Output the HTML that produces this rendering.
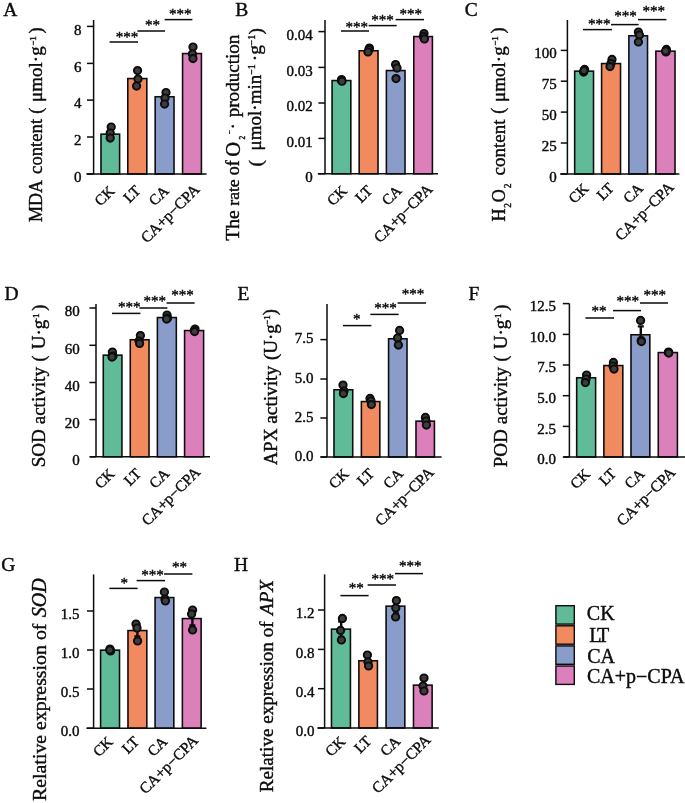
<!DOCTYPE html>
<html lang="en">
<head>
<meta charset="utf-8">
<title>Figure</title>
<style>
html,body{margin:0;padding:0;background:#fff;}
body{width:685px;height:803px;overflow:hidden;font-family:"Liberation Serif","Times New Roman",serif;}
svg{display:block;}
svg text{stroke:#0c0c0c;stroke-width:.4px;}
</style>
</head>
<body>
<svg width="685" height="803" viewBox="0 0 685 803" font-family="'Liberation Serif', 'Times New Roman', serif" fill="#080808">
<defs><filter id="soft" x="-2%" y="-2%" width="104%" height="104%"><feGaussianBlur stdDeviation="0.38"/></filter></defs>
<rect x="-20" y="-20" width="725" height="843" fill="#fff"/>
<g filter="url(#soft)">
<rect x="-20" y="-20" width="725" height="843" fill="#fff"/>
<text x="3.2" y="16.3" font-size="19.5">A</text>
<rect x="100.97" y="134.15" width="18.65" height="39.85" fill="#60bb99" stroke="#080808" stroke-width="1.55"/>
<rect x="127.78" y="78.55" width="19.05" height="95.45" fill="#f28a5e" stroke="#080808" stroke-width="1.55"/>
<rect x="155.18" y="96.75" width="18.85" height="77.25" fill="#8a9cca" stroke="#080808" stroke-width="1.55"/>
<rect x="182.57" y="53.55" width="18.85" height="120.45" fill="#dc80bc" stroke="#080808" stroke-width="1.55"/>
<path d="M93.6 20V174" stroke="#080808" stroke-width="1.5" fill="none"/>
<path d="M86.4 174H206.6" stroke="#080808" stroke-width="1.5" fill="none"/>
<path d="M87.00 26.4H93.6" stroke="#080808" stroke-width="1.5" fill="none"/>
<text x="81.40" y="34.60" font-size="15" text-anchor="end">8</text>
<path d="M87.00 63.4H93.6" stroke="#080808" stroke-width="1.5" fill="none"/>
<text x="81.40" y="71.60" font-size="15" text-anchor="end">6</text>
<path d="M87.00 100.1H93.6" stroke="#080808" stroke-width="1.5" fill="none"/>
<text x="81.40" y="108.30" font-size="15" text-anchor="end">4</text>
<path d="M87.00 137H93.6" stroke="#080808" stroke-width="1.5" fill="none"/>
<text x="81.40" y="145.20" font-size="15" text-anchor="end">2</text>
<path d="M87.00 174H93.6" stroke="#080808" stroke-width="1.5" fill="none"/>
<text x="81.40" y="182.20" font-size="15" text-anchor="end">0</text>
<circle cx="111.2" cy="127" r="3.65" fill="#3c3d3d" stroke="#080808" stroke-width="1.95"/>
<circle cx="110.2" cy="133" r="3.65" fill="#3c3d3d" stroke="#080808" stroke-width="1.95"/>
<circle cx="110.2" cy="138" r="3.65" fill="#3c3d3d" stroke="#080808" stroke-width="1.95"/>
<circle cx="137.6" cy="70.6" r="3.65" fill="#3c3d3d" stroke="#080808" stroke-width="1.95"/>
<circle cx="138" cy="79" r="3.65" fill="#3c3d3d" stroke="#080808" stroke-width="1.95"/>
<circle cx="136.6" cy="86" r="3.65" fill="#3c3d3d" stroke="#080808" stroke-width="1.95"/>
<circle cx="166" cy="92.6" r="3.65" fill="#3c3d3d" stroke="#080808" stroke-width="1.95"/>
<circle cx="165" cy="98" r="3.65" fill="#3c3d3d" stroke="#080808" stroke-width="1.95"/>
<circle cx="164.6" cy="104" r="3.65" fill="#3c3d3d" stroke="#080808" stroke-width="1.95"/>
<circle cx="193" cy="47" r="3.65" fill="#3c3d3d" stroke="#080808" stroke-width="1.95"/>
<circle cx="192.4" cy="54" r="3.65" fill="#3c3d3d" stroke="#080808" stroke-width="1.95"/>
<circle cx="193" cy="58.6" r="3.65" fill="#3c3d3d" stroke="#080808" stroke-width="1.95"/>
<path d="M109.6 42H138" stroke="#080808" stroke-width="1.5" fill="none"/>
<text x="127" y="41.80" font-size="15" text-anchor="middle">***</text>
<path d="M137.4 31H165" stroke="#080808" stroke-width="1.5" fill="none"/>
<text x="152.4" y="30.40" font-size="15" text-anchor="middle">**</text>
<path d="M164.6 19.6H192.4" stroke="#080808" stroke-width="1.5" fill="none"/>
<text x="180.2" y="18.80" font-size="15" text-anchor="middle">***</text>
<text transform="translate(115.30 192.00) rotate(-45)" font-size="15" text-anchor="end">CK</text>
<text transform="translate(141.60 191.60) rotate(-45)" font-size="15" text-anchor="end">LT</text>
<text transform="translate(169.60 191.80) rotate(-45)" font-size="15" text-anchor="end">CA</text>
<text transform="translate(200.40 190.40) rotate(-45)" font-size="15.5" text-anchor="end">CA+p−CPA</text>
<g transform="translate(42.4 222.1) rotate(-90)">
<text x="0.00" y="0" font-size="18">MDA</text>
<text x="48.20" y="0" font-size="18.7">content</text>
<text x="108.40" y="-0.4" font-size="18">(</text>
<text x="120.20" y="0" font-size="19">μmol·g</text>
<text x="176.40" y="-6.5" font-size="9">−1</text>
<text x="188.50" y="-0.6" font-size="18">)</text>
</g>
<text x="235.2" y="16.2" font-size="19.5">B</text>
<rect x="332.07" y="80.55" width="18.75" height="93.25" fill="#60bb99" stroke="#080808" stroke-width="1.55"/>
<rect x="359.18" y="50.75" width="18.85" height="123.05" fill="#f28a5e" stroke="#080808" stroke-width="1.55"/>
<rect x="386.38" y="70.55" width="18.65" height="103.25" fill="#8a9cca" stroke="#080808" stroke-width="1.55"/>
<rect x="413.77" y="36.55" width="18.65" height="137.25" fill="#dc80bc" stroke="#080808" stroke-width="1.55"/>
<path d="M325 20V173.8" stroke="#080808" stroke-width="1.5" fill="none"/>
<path d="M317.8 173.8H438" stroke="#080808" stroke-width="1.5" fill="none"/>
<path d="M318.40 31.6H325" stroke="#080808" stroke-width="1.5" fill="none"/>
<text x="312.80" y="39.80" font-size="15" text-anchor="end">0.04</text>
<path d="M318.40 67.4H325" stroke="#080808" stroke-width="1.5" fill="none"/>
<text x="312.80" y="75.60" font-size="15" text-anchor="end">0.03</text>
<path d="M318.40 103H325" stroke="#080808" stroke-width="1.5" fill="none"/>
<text x="312.80" y="111.20" font-size="15" text-anchor="end">0.02</text>
<path d="M318.40 138.4H325" stroke="#080808" stroke-width="1.5" fill="none"/>
<text x="312.80" y="146.60" font-size="15" text-anchor="end">0.01</text>
<path d="M318.40 173.8H325" stroke="#080808" stroke-width="1.5" fill="none"/>
<text x="312.80" y="182.00" font-size="15" text-anchor="end">0</text>
<circle cx="341.6" cy="79.6" r="3.65" fill="#3c3d3d" stroke="#080808" stroke-width="1.95"/>
<circle cx="341.4" cy="80.6" r="3.65" fill="#3c3d3d" stroke="#080808" stroke-width="1.95"/>
<circle cx="342" cy="81.2" r="3.65" fill="#3c3d3d" stroke="#080808" stroke-width="1.95"/>
<circle cx="369.4" cy="48" r="3.65" fill="#3c3d3d" stroke="#080808" stroke-width="1.95"/>
<circle cx="369" cy="49.6" r="3.65" fill="#3c3d3d" stroke="#080808" stroke-width="1.95"/>
<circle cx="368" cy="52" r="3.65" fill="#3c3d3d" stroke="#080808" stroke-width="1.95"/>
<circle cx="395.6" cy="64.6" r="3.65" fill="#3c3d3d" stroke="#080808" stroke-width="1.95"/>
<circle cx="397" cy="68" r="3.65" fill="#3c3d3d" stroke="#080808" stroke-width="1.95"/>
<circle cx="396" cy="78.6" r="3.65" fill="#3c3d3d" stroke="#080808" stroke-width="1.95"/>
<circle cx="424" cy="33.6" r="3.65" fill="#3c3d3d" stroke="#080808" stroke-width="1.95"/>
<circle cx="423.4" cy="36.6" r="3.65" fill="#3c3d3d" stroke="#080808" stroke-width="1.95"/>
<circle cx="424.4" cy="39" r="3.65" fill="#3c3d3d" stroke="#080808" stroke-width="1.95"/>
<path d="M341 31H369" stroke="#080808" stroke-width="1.5" fill="none"/>
<text x="356.7" y="32.30" font-size="15" text-anchor="middle">***</text>
<path d="M368.6 25.6H396.6" stroke="#080808" stroke-width="1.5" fill="none"/>
<text x="382.5" y="25.40" font-size="15" text-anchor="middle">***</text>
<path d="M395.6 19.6H424" stroke="#080808" stroke-width="1.5" fill="none"/>
<text x="410.8" y="18.80" font-size="15" text-anchor="middle">***</text>
<text transform="translate(347.85 191.80) rotate(-45)" font-size="15" text-anchor="end">CK</text>
<text transform="translate(373.20 191.40) rotate(-45)" font-size="15" text-anchor="end">LT</text>
<text transform="translate(402.50 191.60) rotate(-45)" font-size="15" text-anchor="end">CA</text>
<text transform="translate(433.30 190.20) rotate(-45)" font-size="15.5" text-anchor="end">CA+p−CPA</text>
<g transform="translate(239.1 240.7) rotate(-90)">
<text x="0.00" y="0" font-size="19.6">The</text>
<text x="35.00" y="0" font-size="17.6">rate</text>
<text x="65.40" y="0" font-size="18">of</text>
<text x="84.00" y="0.6" font-size="20.5">O</text>
<text x="101.20" y="6.2" font-size="7.5">2</text>
<text x="106.60" y="-7.4" font-size="7">−</text>
<text x="111.30" y="0.3" font-size="19.3">·</text>
<text x="123.40" y="0" font-size="19.1">production</text>
</g>
<g transform="translate(261.4 165.8) rotate(-90)">
<text x="-0.60" y="0.3" font-size="19.5">(</text>
<text x="15.40" y="0" font-size="19">μmol·min</text>
<text x="91.00" y="-6.8" font-size="10">−1</text>
<text x="104.60" y="0" font-size="19.5">·g</text>
<text x="120.30" y="-6.8" font-size="10">−1</text>
<text x="131.20" y="0.4" font-size="19">)</text>
</g>
<text x="464.8" y="16.3" font-size="19.5">C</text>
<rect x="574.67" y="71.15" width="18.85" height="102.85" fill="#60bb99" stroke="#080808" stroke-width="1.55"/>
<rect x="601.58" y="63.55" width="18.95" height="110.45" fill="#f28a5e" stroke="#080808" stroke-width="1.55"/>
<rect x="628.88" y="35.75" width="18.65" height="138.25" fill="#8a9cca" stroke="#080808" stroke-width="1.55"/>
<rect x="655.88" y="51.15" width="19.15" height="122.85" fill="#dc80bc" stroke="#080808" stroke-width="1.55"/>
<path d="M567.4 20V174" stroke="#080808" stroke-width="1.5" fill="none"/>
<path d="M560.2 174H679.4" stroke="#080808" stroke-width="1.5" fill="none"/>
<path d="M560.80 50.4H567.4" stroke="#080808" stroke-width="1.5" fill="none"/>
<text x="556.70" y="58.00" font-size="15" text-anchor="end">100</text>
<path d="M560.80 81.2H567.4" stroke="#080808" stroke-width="1.5" fill="none"/>
<text x="556.70" y="88.80" font-size="15" text-anchor="end">75</text>
<path d="M560.80 112.1H567.4" stroke="#080808" stroke-width="1.5" fill="none"/>
<text x="556.70" y="119.70" font-size="15" text-anchor="end">50</text>
<path d="M560.80 143H567.4" stroke="#080808" stroke-width="1.5" fill="none"/>
<text x="556.70" y="150.60" font-size="15" text-anchor="end">25</text>
<path d="M560.80 174H567.4" stroke="#080808" stroke-width="1.5" fill="none"/>
<text x="556.70" y="181.60" font-size="15" text-anchor="end">0</text>
<circle cx="584.6" cy="69.4" r="3.65" fill="#3c3d3d" stroke="#080808" stroke-width="1.95"/>
<circle cx="583.6" cy="72" r="3.65" fill="#3c3d3d" stroke="#080808" stroke-width="1.95"/>
<circle cx="584" cy="70.6" r="3.65" fill="#3c3d3d" stroke="#080808" stroke-width="1.95"/>
<circle cx="612" cy="59.4" r="3.65" fill="#3c3d3d" stroke="#080808" stroke-width="1.95"/>
<circle cx="611" cy="63.6" r="3.65" fill="#3c3d3d" stroke="#080808" stroke-width="1.95"/>
<circle cx="610" cy="66.6" r="3.65" fill="#3c3d3d" stroke="#080808" stroke-width="1.95"/>
<circle cx="638.4" cy="32" r="3.65" fill="#3c3d3d" stroke="#080808" stroke-width="1.95"/>
<circle cx="639.4" cy="35" r="3.65" fill="#3c3d3d" stroke="#080808" stroke-width="1.95"/>
<circle cx="638.4" cy="42" r="3.65" fill="#3c3d3d" stroke="#080808" stroke-width="1.95"/>
<circle cx="666.4" cy="49.4" r="3.65" fill="#3c3d3d" stroke="#080808" stroke-width="1.95"/>
<circle cx="666" cy="52" r="3.65" fill="#3c3d3d" stroke="#080808" stroke-width="1.95"/>
<circle cx="665.6" cy="51" r="3.65" fill="#3c3d3d" stroke="#080808" stroke-width="1.95"/>
<path d="M583 29.6H612" stroke="#080808" stroke-width="1.5" fill="none"/>
<text x="599.2" y="28.90" font-size="15" text-anchor="middle">***</text>
<path d="M611 24.6H638.6" stroke="#080808" stroke-width="1.5" fill="none"/>
<text x="625.4" y="21.30" font-size="15" text-anchor="middle">***</text>
<path d="M638 19.6H666.4" stroke="#080808" stroke-width="1.5" fill="none"/>
<text x="653.8" y="16.40" font-size="15" text-anchor="middle">***</text>
<text transform="translate(589.30 189.50) rotate(-45)" font-size="15" text-anchor="end">CK</text>
<text transform="translate(614.85 189.10) rotate(-45)" font-size="15" text-anchor="end">LT</text>
<text transform="translate(644.00 189.30) rotate(-45)" font-size="15" text-anchor="end">CA</text>
<text transform="translate(674.55 188.20) rotate(-45)" font-size="15.5" text-anchor="end">CA+p−CPA</text>
<g transform="translate(504.7 221.6) rotate(-90)">
<text x="0.00" y="0" font-size="18">H</text>
<text x="13.80" y="5.8" font-size="9.5">2</text>
<text x="19.40" y="0" font-size="18">O</text>
<text x="33.30" y="5.8" font-size="9.5">2</text>
<text x="46.10" y="0" font-size="19">content</text>
<text x="107.90" y="-0.4" font-size="18">(</text>
<text x="119.70" y="0" font-size="19">μmol·g</text>
<text x="175.90" y="-6.5" font-size="9">−1</text>
<text x="188.00" y="-0.6" font-size="18">)</text>
</g>
<text x="4.4" y="300.2" font-size="19.5">D</text>
<rect x="103.28" y="355.15" width="18.65" height="101.65" fill="#60bb99" stroke="#080808" stroke-width="1.55"/>
<rect x="130.28" y="339.75" width="18.75" height="117.05" fill="#f28a5e" stroke="#080808" stroke-width="1.55"/>
<rect x="157.38" y="317.55" width="18.95" height="139.25" fill="#8a9cca" stroke="#080808" stroke-width="1.55"/>
<rect x="184.57" y="330.55" width="19.05" height="126.25" fill="#dc80bc" stroke="#080808" stroke-width="1.55"/>
<path d="M96 304V456.8" stroke="#080808" stroke-width="1.5" fill="none"/>
<path d="M90 456.8H210" stroke="#080808" stroke-width="1.5" fill="none"/>
<path d="M89.40 308H96" stroke="#080808" stroke-width="1.5" fill="none"/>
<text x="79.80" y="316.20" font-size="15" text-anchor="end">80</text>
<path d="M89.40 345.3H96" stroke="#080808" stroke-width="1.5" fill="none"/>
<text x="79.80" y="353.50" font-size="15" text-anchor="end">60</text>
<path d="M89.40 382.5H96" stroke="#080808" stroke-width="1.5" fill="none"/>
<text x="79.80" y="390.70" font-size="15" text-anchor="end">40</text>
<path d="M89.40 419.6H96" stroke="#080808" stroke-width="1.5" fill="none"/>
<text x="79.80" y="427.80" font-size="15" text-anchor="end">20</text>
<path d="M89.40 456.8H96" stroke="#080808" stroke-width="1.5" fill="none"/>
<text x="79.80" y="465.00" font-size="15" text-anchor="end">0</text>
<circle cx="112.4" cy="352" r="3.65" fill="#3c3d3d" stroke="#080808" stroke-width="1.95"/>
<circle cx="113" cy="356" r="3.65" fill="#3c3d3d" stroke="#080808" stroke-width="1.95"/>
<circle cx="112" cy="357" r="3.65" fill="#3c3d3d" stroke="#080808" stroke-width="1.95"/>
<circle cx="140.4" cy="335.6" r="3.65" fill="#3c3d3d" stroke="#080808" stroke-width="1.95"/>
<circle cx="139" cy="341" r="3.65" fill="#3c3d3d" stroke="#080808" stroke-width="1.95"/>
<circle cx="139.6" cy="343.4" r="3.65" fill="#3c3d3d" stroke="#080808" stroke-width="1.95"/>
<circle cx="167" cy="315" r="3.65" fill="#3c3d3d" stroke="#080808" stroke-width="1.95"/>
<circle cx="167.6" cy="318" r="3.65" fill="#3c3d3d" stroke="#080808" stroke-width="1.95"/>
<circle cx="166.6" cy="319" r="3.65" fill="#3c3d3d" stroke="#080808" stroke-width="1.95"/>
<circle cx="195" cy="329" r="3.65" fill="#3c3d3d" stroke="#080808" stroke-width="1.95"/>
<circle cx="194.4" cy="330.6" r="3.65" fill="#3c3d3d" stroke="#080808" stroke-width="1.95"/>
<circle cx="194.6" cy="331.6" r="3.65" fill="#3c3d3d" stroke="#080808" stroke-width="1.95"/>
<path d="M112 313.4H140.4" stroke="#080808" stroke-width="1.5" fill="none"/>
<text x="129.2" y="312.40" font-size="15" text-anchor="middle">***</text>
<path d="M139.4 308H167.4" stroke="#080808" stroke-width="1.5" fill="none"/>
<text x="154.7" y="306.20" font-size="15" text-anchor="middle">***</text>
<path d="M166.6 303H194.6" stroke="#080808" stroke-width="1.5" fill="none"/>
<text x="182.4" y="299.80" font-size="15" text-anchor="middle">***</text>
<text transform="translate(115.50 474.80) rotate(-45)" font-size="15" text-anchor="end">CK</text>
<text transform="translate(141.95 474.40) rotate(-45)" font-size="15" text-anchor="end">LT</text>
<text transform="translate(170.05 474.60) rotate(-45)" font-size="15" text-anchor="end">CA</text>
<text transform="translate(201.10 473.20) rotate(-45)" font-size="15.5" text-anchor="end">CA+p−CPA</text>
<g transform="translate(45.3 467.3) rotate(-90)">
<text x="0.00" y="0" font-size="19.1">SOD activity</text>
<text x="105.70" y="-0.4" font-size="18">(</text>
<text x="118.00" y="0" font-size="19">U·g</text>
<text x="144.20" y="-6.5" font-size="9">−1</text>
<text x="156.50" y="-0.6" font-size="18">)</text>
</g>
<text x="237.4" y="299.8" font-size="19.5">E</text>
<rect x="333.98" y="389.75" width="18.75" height="67.25" fill="#60bb99" stroke="#080808" stroke-width="1.55"/>
<rect x="361.38" y="401.55" width="18.45" height="55.45" fill="#f28a5e" stroke="#080808" stroke-width="1.55"/>
<rect x="388.57" y="338.75" width="18.45" height="118.25" fill="#8a9cca" stroke="#080808" stroke-width="1.55"/>
<rect x="415.98" y="421.15" width="18.45" height="35.85" fill="#dc80bc" stroke="#080808" stroke-width="1.55"/>
<path d="M327 304V457" stroke="#080808" stroke-width="1.5" fill="none"/>
<path d="M320.5 457H441.6" stroke="#080808" stroke-width="1.5" fill="none"/>
<path d="M320.40 339.6H327" stroke="#080808" stroke-width="1.5" fill="none"/>
<text x="313.50" y="343.20" font-size="15" text-anchor="end">7.5</text>
<path d="M320.40 379H327" stroke="#080808" stroke-width="1.5" fill="none"/>
<text x="313.50" y="382.60" font-size="15" text-anchor="end">5.0</text>
<path d="M320.40 418H327" stroke="#080808" stroke-width="1.5" fill="none"/>
<text x="313.50" y="421.60" font-size="15" text-anchor="end">2.5</text>
<path d="M320.40 457H327" stroke="#080808" stroke-width="1.5" fill="none"/>
<text x="313.50" y="460.60" font-size="15" text-anchor="end">0.0</text>
<circle cx="343" cy="385" r="3.65" fill="#3c3d3d" stroke="#080808" stroke-width="1.95"/>
<circle cx="344" cy="391" r="3.65" fill="#3c3d3d" stroke="#080808" stroke-width="1.95"/>
<circle cx="343.4" cy="393.6" r="3.65" fill="#3c3d3d" stroke="#080808" stroke-width="1.95"/>
<circle cx="370" cy="398.4" r="3.65" fill="#3c3d3d" stroke="#080808" stroke-width="1.95"/>
<circle cx="371" cy="401" r="3.65" fill="#3c3d3d" stroke="#080808" stroke-width="1.95"/>
<circle cx="371.4" cy="404.6" r="3.65" fill="#3c3d3d" stroke="#080808" stroke-width="1.95"/>
<circle cx="399.6" cy="330.4" r="3.65" fill="#3c3d3d" stroke="#080808" stroke-width="1.95"/>
<circle cx="397.6" cy="338" r="3.65" fill="#3c3d3d" stroke="#080808" stroke-width="1.95"/>
<circle cx="398.4" cy="345" r="3.65" fill="#3c3d3d" stroke="#080808" stroke-width="1.95"/>
<circle cx="425.4" cy="417.4" r="3.65" fill="#3c3d3d" stroke="#080808" stroke-width="1.95"/>
<circle cx="426" cy="421" r="3.65" fill="#3c3d3d" stroke="#080808" stroke-width="1.95"/>
<circle cx="426.4" cy="425" r="3.65" fill="#3c3d3d" stroke="#080808" stroke-width="1.95"/>
<path d="M343 325.6H371.4" stroke="#080808" stroke-width="1.5" fill="none"/>
<text x="356.8" y="323.90" font-size="15" text-anchor="middle">*</text>
<path d="M370.4 314.4H398.6" stroke="#080808" stroke-width="1.5" fill="none"/>
<text x="385.5" y="313.40" font-size="15" text-anchor="middle">***</text>
<path d="M397.6 303H426" stroke="#080808" stroke-width="1.5" fill="none"/>
<text x="413" y="298.80" font-size="15" text-anchor="middle">***</text>
<text transform="translate(349.55 474.80) rotate(-45)" font-size="15" text-anchor="end">CK</text>
<text transform="translate(375.00 474.50) rotate(-45)" font-size="15" text-anchor="end">LT</text>
<text transform="translate(404.00 474.70) rotate(-45)" font-size="15" text-anchor="end">CA</text>
<text transform="translate(434.60 473.40) rotate(-45)" font-size="15.5" text-anchor="end">CA+p−CPA</text>
<g transform="translate(276.7 464.9) rotate(-90)">
<text x="0.00" y="0" font-size="18.3">APX</text>
<text x="41.20" y="0" font-size="19.3">activity</text>
<text x="104.80" y="0" font-size="19">(U·g</text>
<text x="140.00" y="-6.5" font-size="9">−1</text>
<text x="149.70" y="-0.6" font-size="18">)</text>
</g>
<text x="468.4" y="299.8" font-size="19.5">F</text>
<rect x="576.67" y="377.75" width="18.95" height="79.25" fill="#60bb99" stroke="#080808" stroke-width="1.55"/>
<rect x="603.88" y="365.55" width="18.95" height="91.45" fill="#f28a5e" stroke="#080808" stroke-width="1.55"/>
<rect x="630.98" y="334.75" width="18.85" height="122.25" fill="#8a9cca" stroke="#080808" stroke-width="1.55"/>
<rect x="658.27" y="352.55" width="19.15" height="104.45" fill="#dc80bc" stroke="#080808" stroke-width="1.55"/>
<path d="M569.4 303.6V457" stroke="#080808" stroke-width="1.5" fill="none"/>
<path d="M563.6 457H685" stroke="#080808" stroke-width="1.5" fill="none"/>
<path d="M562.80 303.6H569.4" stroke="#080808" stroke-width="1.5" fill="none"/>
<text x="556.00" y="310.80" font-size="15" text-anchor="end">12.5</text>
<path d="M562.80 334.4H569.4" stroke="#080808" stroke-width="1.5" fill="none"/>
<text x="556.00" y="341.60" font-size="15" text-anchor="end">10.0</text>
<path d="M562.80 365H569.4" stroke="#080808" stroke-width="1.5" fill="none"/>
<text x="556.00" y="372.20" font-size="15" text-anchor="end">7.5</text>
<path d="M562.80 395.7H569.4" stroke="#080808" stroke-width="1.5" fill="none"/>
<text x="556.00" y="402.90" font-size="15" text-anchor="end">5.0</text>
<path d="M562.80 426.4H569.4" stroke="#080808" stroke-width="1.5" fill="none"/>
<text x="556.00" y="433.60" font-size="15" text-anchor="end">2.5</text>
<path d="M562.80 457H569.4" stroke="#080808" stroke-width="1.5" fill="none"/>
<text x="556.00" y="464.20" font-size="15" text-anchor="end">0.0</text>
<path d="M640.8 326.4V343M637.8 326.4h6M637.8 343h6" stroke="#080808" stroke-width="2.4" fill="none"/>
<circle cx="586.6" cy="375" r="3.65" fill="#3c3d3d" stroke="#080808" stroke-width="1.95"/>
<circle cx="586" cy="379" r="3.65" fill="#3c3d3d" stroke="#080808" stroke-width="1.95"/>
<circle cx="585.4" cy="382.6" r="3.65" fill="#3c3d3d" stroke="#080808" stroke-width="1.95"/>
<circle cx="613.4" cy="362.4" r="3.65" fill="#3c3d3d" stroke="#080808" stroke-width="1.95"/>
<circle cx="613" cy="366" r="3.65" fill="#3c3d3d" stroke="#080808" stroke-width="1.95"/>
<circle cx="614" cy="369" r="3.65" fill="#3c3d3d" stroke="#080808" stroke-width="1.95"/>
<circle cx="640.6" cy="320.4" r="3.65" fill="#3c3d3d" stroke="#080808" stroke-width="1.95"/>
<circle cx="641.2" cy="340.4" r="3.65" fill="#3c3d3d" stroke="#080808" stroke-width="1.95"/>
<circle cx="641.4" cy="341.6" r="3.65" fill="#3c3d3d" stroke="#080808" stroke-width="1.95"/>
<circle cx="668.6" cy="352" r="3.65" fill="#3c3d3d" stroke="#080808" stroke-width="1.95"/>
<circle cx="668.4" cy="352.6" r="3.65" fill="#3c3d3d" stroke="#080808" stroke-width="1.95"/>
<circle cx="668.8" cy="353" r="3.65" fill="#3c3d3d" stroke="#080808" stroke-width="1.95"/>
<path d="M585.4 318H614" stroke="#080808" stroke-width="1.5" fill="none"/>
<text x="599" y="316.30" font-size="15" text-anchor="middle">**</text>
<path d="M613 310.6H641" stroke="#080808" stroke-width="1.5" fill="none"/>
<text x="627.7" y="306.20" font-size="15" text-anchor="middle">***</text>
<path d="M640 303H668" stroke="#080808" stroke-width="1.5" fill="none"/>
<text x="654.7" y="299.80" font-size="15" text-anchor="middle">***</text>
<text transform="translate(590.95 475.10) rotate(-45)" font-size="15" text-anchor="end">CK</text>
<text transform="translate(616.95 474.60) rotate(-45)" font-size="15" text-anchor="end">LT</text>
<text transform="translate(645.30 474.80) rotate(-45)" font-size="15" text-anchor="end">CA</text>
<text transform="translate(676.25 473.40) rotate(-45)" font-size="15.5" text-anchor="end">CA+p−CPA</text>
<g transform="translate(507.4 467.3) rotate(-90)">
<text x="0.00" y="0" font-size="19.1">POD activity</text>
<text x="105.70" y="-0.4" font-size="18">(</text>
<text x="118.00" y="0" font-size="19">U·g</text>
<text x="144.20" y="-6.5" font-size="9">−1</text>
<text x="156.50" y="-0.6" font-size="18">)</text>
</g>
<text x="1.3" y="570.5" font-size="19.5">G</text>
<rect x="100.58" y="650.15" width="18.95" height="78.05" fill="#60bb99" stroke="#080808" stroke-width="1.55"/>
<rect x="127.97" y="630.55" width="18.85" height="97.65" fill="#f28a5e" stroke="#080808" stroke-width="1.55"/>
<rect x="155.07" y="597.55" width="18.75" height="130.65" fill="#8a9cca" stroke="#080808" stroke-width="1.55"/>
<rect x="182.38" y="618.55" width="18.75" height="109.65" fill="#dc80bc" stroke="#080808" stroke-width="1.55"/>
<path d="M93.6 574.4V728.2" stroke="#080808" stroke-width="1.5" fill="none"/>
<path d="M86.4 728.2H206.4" stroke="#080808" stroke-width="1.5" fill="none"/>
<path d="M87.00 611H93.6" stroke="#080808" stroke-width="1.5" fill="none"/>
<text x="79.40" y="619.20" font-size="15" text-anchor="end">1.5</text>
<path d="M87.00 650H93.6" stroke="#080808" stroke-width="1.5" fill="none"/>
<text x="79.40" y="658.20" font-size="15" text-anchor="end">1.0</text>
<path d="M87.00 689H93.6" stroke="#080808" stroke-width="1.5" fill="none"/>
<text x="79.40" y="697.20" font-size="15" text-anchor="end">0.5</text>
<path d="M87.00 728.2H93.6" stroke="#080808" stroke-width="1.5" fill="none"/>
<text x="79.40" y="736.40" font-size="15" text-anchor="end">0.0</text>
<path d="M137.4 624.5V636.5M134.4 624.5h6M134.4 636.5h6" stroke="#080808" stroke-width="2.4" fill="none"/>
<path d="M165 593.5V601M162 593.5h6M162 601h6" stroke="#080808" stroke-width="2.4" fill="none"/>
<path d="M192.4 611V625.5M189.4 611h6M189.4 625.5h6" stroke="#080808" stroke-width="2.4" fill="none"/>
<circle cx="110" cy="649" r="3.65" fill="#3c3d3d" stroke="#080808" stroke-width="1.95"/>
<circle cx="110.6" cy="651" r="3.65" fill="#3c3d3d" stroke="#080808" stroke-width="1.95"/>
<circle cx="109.8" cy="650" r="3.65" fill="#3c3d3d" stroke="#080808" stroke-width="1.95"/>
<circle cx="136" cy="624" r="3.65" fill="#3c3d3d" stroke="#080808" stroke-width="1.95"/>
<circle cx="137" cy="628" r="3.65" fill="#3c3d3d" stroke="#080808" stroke-width="1.95"/>
<circle cx="137.6" cy="641" r="3.65" fill="#3c3d3d" stroke="#080808" stroke-width="1.95"/>
<circle cx="164.4" cy="592" r="3.65" fill="#3c3d3d" stroke="#080808" stroke-width="1.95"/>
<circle cx="165" cy="599" r="3.65" fill="#3c3d3d" stroke="#080808" stroke-width="1.95"/>
<circle cx="165.4" cy="601" r="3.65" fill="#3c3d3d" stroke="#080808" stroke-width="1.95"/>
<circle cx="192.6" cy="610" r="3.65" fill="#3c3d3d" stroke="#080808" stroke-width="1.95"/>
<circle cx="191.6" cy="614" r="3.65" fill="#3c3d3d" stroke="#080808" stroke-width="1.95"/>
<circle cx="192.6" cy="630" r="3.65" fill="#3c3d3d" stroke="#080808" stroke-width="1.95"/>
<path d="M109.4 588.4H137.6" stroke="#080808" stroke-width="1.5" fill="none"/>
<text x="124.3" y="588.20" font-size="15" text-anchor="middle">*</text>
<path d="M136.6 580.6H165" stroke="#080808" stroke-width="1.5" fill="none"/>
<text x="152.5" y="580.40" font-size="15" text-anchor="middle">***</text>
<path d="M164 574H192.4" stroke="#080808" stroke-width="1.5" fill="none"/>
<text x="179.4" y="572.40" font-size="15" text-anchor="middle">**</text>
<text transform="translate(113.65 742.80) rotate(-45)" font-size="15" text-anchor="end">CK</text>
<text transform="translate(140.00 742.60) rotate(-45)" font-size="15" text-anchor="end">LT</text>
<text transform="translate(168.25 742.60) rotate(-45)" font-size="15" text-anchor="end">CA</text>
<text transform="translate(198.95 741.40) rotate(-45)" font-size="15.5" text-anchor="end">CA+p−CPA</text>
<g transform="translate(45.6 801) rotate(-90)">
<text x="0.00" y="0" font-size="19.85">Relative expression of</text>
<text x="183.80" y="0" font-size="20" font-style="italic">SOD</text>
</g>
<text x="234" y="570.5" font-size="19.5">H</text>
<rect x="331.48" y="629.15" width="18.95" height="98.85" fill="#60bb99" stroke="#080808" stroke-width="1.55"/>
<rect x="358.88" y="660.75" width="18.55" height="67.25" fill="#f28a5e" stroke="#080808" stroke-width="1.55"/>
<rect x="386.07" y="606.15" width="18.75" height="121.85" fill="#8a9cca" stroke="#080808" stroke-width="1.55"/>
<rect x="413.48" y="685.15" width="18.65" height="42.85" fill="#dc80bc" stroke="#080808" stroke-width="1.55"/>
<path d="M324.6 574.4V728" stroke="#080808" stroke-width="1.5" fill="none"/>
<path d="M317.4 728H438.8" stroke="#080808" stroke-width="1.5" fill="none"/>
<path d="M318.00 610H324.6" stroke="#080808" stroke-width="1.5" fill="none"/>
<text x="314.40" y="618.20" font-size="15" text-anchor="end">1.2</text>
<path d="M318.00 649.4H324.6" stroke="#080808" stroke-width="1.5" fill="none"/>
<text x="314.40" y="657.60" font-size="15" text-anchor="end">0.8</text>
<path d="M318.00 688.7H324.6" stroke="#080808" stroke-width="1.5" fill="none"/>
<text x="314.40" y="696.90" font-size="15" text-anchor="end">0.4</text>
<path d="M318.00 728H324.6" stroke="#080808" stroke-width="1.5" fill="none"/>
<text x="314.40" y="736.20" font-size="15" text-anchor="end">0.0</text>
<path d="M341.2 621.5V637M338.2 621.5h6M338.2 637h6" stroke="#080808" stroke-width="2.4" fill="none"/>
<path d="M368 656.5V664.5M365 656.5h6M365 664.5h6" stroke="#080808" stroke-width="2.4" fill="none"/>
<path d="M396 598.5V613.5M393 598.5h6M393 613.5h6" stroke="#080808" stroke-width="2.4" fill="none"/>
<path d="M423.5 679.5V690.5M420.5 679.5h6M420.5 690.5h6" stroke="#080808" stroke-width="2.4" fill="none"/>
<circle cx="342.4" cy="618.4" r="3.65" fill="#3c3d3d" stroke="#080808" stroke-width="1.95"/>
<circle cx="340.6" cy="630.4" r="3.65" fill="#3c3d3d" stroke="#080808" stroke-width="1.95"/>
<circle cx="341.4" cy="640" r="3.65" fill="#3c3d3d" stroke="#080808" stroke-width="1.95"/>
<circle cx="367.4" cy="655" r="3.65" fill="#3c3d3d" stroke="#080808" stroke-width="1.95"/>
<circle cx="368" cy="662" r="3.65" fill="#3c3d3d" stroke="#080808" stroke-width="1.95"/>
<circle cx="368.6" cy="666" r="3.65" fill="#3c3d3d" stroke="#080808" stroke-width="1.95"/>
<circle cx="396.4" cy="600.6" r="3.65" fill="#3c3d3d" stroke="#080808" stroke-width="1.95"/>
<circle cx="395.8" cy="608" r="3.65" fill="#3c3d3d" stroke="#080808" stroke-width="1.95"/>
<circle cx="395.6" cy="617" r="3.65" fill="#3c3d3d" stroke="#080808" stroke-width="1.95"/>
<circle cx="424" cy="678" r="3.65" fill="#3c3d3d" stroke="#080808" stroke-width="1.95"/>
<circle cx="423" cy="686" r="3.65" fill="#3c3d3d" stroke="#080808" stroke-width="1.95"/>
<circle cx="424" cy="691" r="3.65" fill="#3c3d3d" stroke="#080808" stroke-width="1.95"/>
<path d="M340.4 595.6H368.6" stroke="#080808" stroke-width="1.5" fill="none"/>
<text x="356.2" y="592.90" font-size="15" text-anchor="middle">**</text>
<path d="M367.6 585H396" stroke="#080808" stroke-width="1.5" fill="none"/>
<text x="382.7" y="583.80" font-size="15" text-anchor="middle">***</text>
<path d="M395 573.6H423" stroke="#080808" stroke-width="1.5" fill="none"/>
<text x="410.3" y="571.20" font-size="15" text-anchor="middle">***</text>
<text transform="translate(346.05 742.50) rotate(-45)" font-size="15" text-anchor="end">CK</text>
<text transform="translate(372.15 742.10) rotate(-45)" font-size="15" text-anchor="end">LT</text>
<text transform="translate(401.05 742.30) rotate(-45)" font-size="15" text-anchor="end">CA</text>
<text transform="translate(431.50 740.90) rotate(-45)" font-size="15.5" text-anchor="end">CA+p−CPA</text>
<g transform="translate(272.7 792.2) rotate(-90)">
<text x="0.00" y="0" font-size="19.1">Relative expression of</text>
<text x="177.20" y="0" font-size="19.1" font-style="italic">APX</text>
</g>
<rect x="555.9000000000001" y="605.7" width="18.4" height="18.4" fill="#60bb99" stroke="#080808" stroke-width="1.4"/>
<text x="586.8" y="619.6" font-size="20">CK</text>
<rect x="555.9000000000001" y="625.8000000000001" width="18.4" height="18.4" fill="#f28a5e" stroke="#080808" stroke-width="1.4"/>
<text x="589.3" y="641.6" font-size="20">L<tspan dx="-2.6">T</tspan></text>
<rect x="555.9000000000001" y="645.9000000000001" width="18.4" height="18.4" fill="#8a9cca" stroke="#080808" stroke-width="1.4"/>
<text x="587.2" y="662.6" font-size="20">CA</text>
<rect x="555.9000000000001" y="666.0" width="18.4" height="18.4" fill="#dc80bc" stroke="#080808" stroke-width="1.4"/>
<text x="587.0" y="683.0" font-size="20">CA+p−CPA</text>
</g>
</svg>
</body>
</html>
